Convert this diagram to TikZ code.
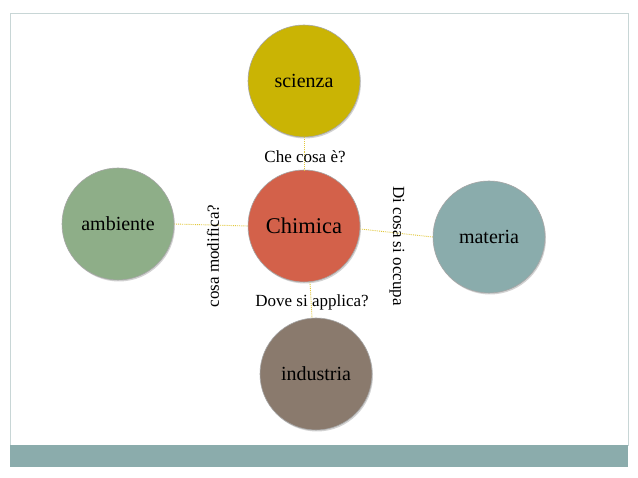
\documentclass[tikz,border=0pt]{standalone}
\usepackage{fontspec}
\setmainfont{Liberation Serif}
\usetikzlibrary{shadows}
\definecolor{cSci}{RGB}{202,180,4}
\definecolor{cChi}{RGB}{211,97,74}
\definecolor{cAmb}{RGB}{142,174,136}
\definecolor{cMat}{RGB}{138,172,172}
\definecolor{cInd}{RGB}{138,122,109}
\definecolor{cBand}{RGB}{139,172,172}
\definecolor{cFrame}{RGB}{200,214,214}
\definecolor{cLink}{RGB}{226,200,60}
\tikzset{
  bubble/.style={circle, minimum size=112pt, inner sep=0pt, draw=black!35, line width=0.6pt,
     drop shadow={shadow xshift=1pt, shadow yshift=-1.5pt, opacity=0.35}, font=\fontsize{20}{22}\selectfont},
  link/.style={draw=cLink, densely dotted, line width=0.9pt},
  lab/.style={inner sep=0pt, font=\fontsize{17}{19}\selectfont}
}
\begin{document}
\begin{tikzpicture}[x=1pt,y=-1pt]
\useasboundingbox (0,0) rectangle (638,478);
\fill[white] (0,0) rectangle (638,478);
\draw[cFrame, line width=0.8pt] (10,13) rectangle (628,445);
\fill[cBand] (10,445) rectangle (628,467);
\node[bubble, fill=cSci] (scienza) at (304,81) {scienza};
\node[bubble, fill=cChi, font=\fontsize{22.5}{25}\selectfont] (chimica) at (304,226) {Chimica};
\node[bubble, fill=cAmb] (ambiente) at (118,224) {ambiente};
\node[bubble, fill=cMat] (materia) at (489,237) {materia};
\node[bubble, fill=cInd] (industria) at (316,374) {industria};
\draw[link] (scienza.south) -- (chimica.north);
\draw[link] (ambiente.east) -- (chimica.west);
\draw[link] (chimica.east) ++(0,3) coordinate (ce) -- (materia.west);
\draw[link] (chimica.south) ++(6,0) coordinate (cs) -- ([xshift=-4pt]industria.north);
\node[lab] (l1) at (305,157) {Che cosa è?};
\node[lab] (l2) at (312,302) {Dove si applica?};
\node[lab, rotate=90] (l3) at (213,256) {cosa modifica?};
\node[lab, rotate=-90] (l4) at (397,246) {Di cosa si occupa};
\end{tikzpicture}
\end{document}
